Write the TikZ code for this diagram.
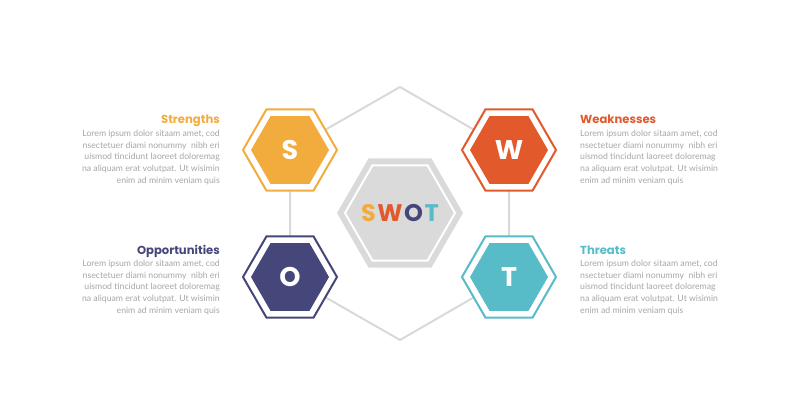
\documentclass[tikz,border=0pt]{standalone}
\usepackage{fontspec}
\setmainfont{Lato}
\newfontfamily\headfont{Poppins}
\usetikzlibrary{shapes.geometric,backgrounds}
\definecolor{cStr}{HTML}{F2AC3E}
\definecolor{cWeak}{HTML}{E2592B}
\definecolor{cOpp}{HTML}{45467A}
\definecolor{cThr}{HTML}{57BBC8}
\definecolor{cLine}{HTML}{D9D9D9}
\definecolor{cCore}{HTML}{DADADA}
\definecolor{cBody}{HTML}{A6A6A6}
\tikzset{
  hexring/.style={regular polygon, regular polygon sides=6, inner sep=0pt, minimum size=94pt, fill=white, line width=2pt},
  hexcore/.style={regular polygon, regular polygon sides=6, inner sep=0pt, minimum size=78pt, text=white,
    font=\headfont\bfseries\fontsize{27}{27}\selectfont},
  heading/.style={font=\headfont\bfseries\fontsize{11.6}{14}\selectfont, inner sep=0pt},
  body/.style={font=\fontsize{8.7}{11.6}\selectfont, text=cBody, inner sep=0pt},
}
\newcommand{\lorem}{Lorem ipsum dolor sitaam amet, cod\\ nsectetuer diami nonummy\ \ nibh eri\\
  uismod tincidunt laoreet doloremag\\ na aliquam erat volutpat. Ut wisimin\\ enim ad minim veniam quis}
\begin{document}
\begin{tikzpicture}[x=1pt,y=-1pt]
  \useasboundingbox (0,0) rectangle (800,409);
  % quadrant hexagons
  \node[hexring,draw=cStr]  (S) at (290,150) {};
  \node[hexcore,fill=cStr]  at (S) {S};
  \node[hexring,draw=cWeak] (W) at (509,150) {};
  \node[hexcore,fill=cWeak] at (W) {W};
  \node[hexring,draw=cOpp]  (O) at (290,277) {};
  \node[hexcore,fill=cOpp]  at (O) {O};
  \node[hexring,draw=cThr]  (T) at (509,277) {};
  \node[hexcore,fill=cThr]  at (T) {T};
  \coordinate (top) at (400,87);
  \coordinate (bot) at (400,340);
  \begin{scope}[on background layer]
    \draw[cLine,line width=2pt] (top) -- (S.center) -- (O.center) -- (bot) -- (T.center) -- (W.center) -- cycle;
  \end{scope}
  % centre
  \node[regular polygon, regular polygon sides=6, inner sep=0pt, minimum size=126pt, fill=cCore] (core) at (400,213) {};
  \node[regular polygon, regular polygon sides=6, inner sep=0pt, minimum size=110pt, draw=white, line width=2pt] (ring) at (core) {};
  \node[font=\headfont\bfseries\fontsize{24}{24}\selectfont, inner sep=0pt] (swot) at (core)
    {\textcolor{cStr}{S}\kern1.5pt\textcolor{cWeak}{W}\kern1.5pt\textcolor{cOpp}{O}\kern1.5pt\textcolor{cThr}{T}};
  % texts
  \node[heading,text=cStr,anchor=base east]  (hS) at (220,124) {Strengths};
  \node[body,align=right,anchor=north east]  (bS) at (220,130) {\lorem};
  \node[heading,text=cOpp,anchor=base east]  (hO) at (220,254) {Opportunities};
  \node[body,align=right,anchor=north east]  (bO) at (220,260) {\lorem};
  \node[heading,text=cWeak,anchor=base west] (hW) at (580,124) {Weaknesses};
  \node[body,align=left,anchor=north west]   (bW) at (580,130) {\lorem};
  \node[heading,text=cThr,anchor=base west]  (hT) at (580,254) {Threats};
  \node[body,align=left,anchor=north west]   (bT) at (580,260) {\lorem};
\end{tikzpicture}
\end{document}
